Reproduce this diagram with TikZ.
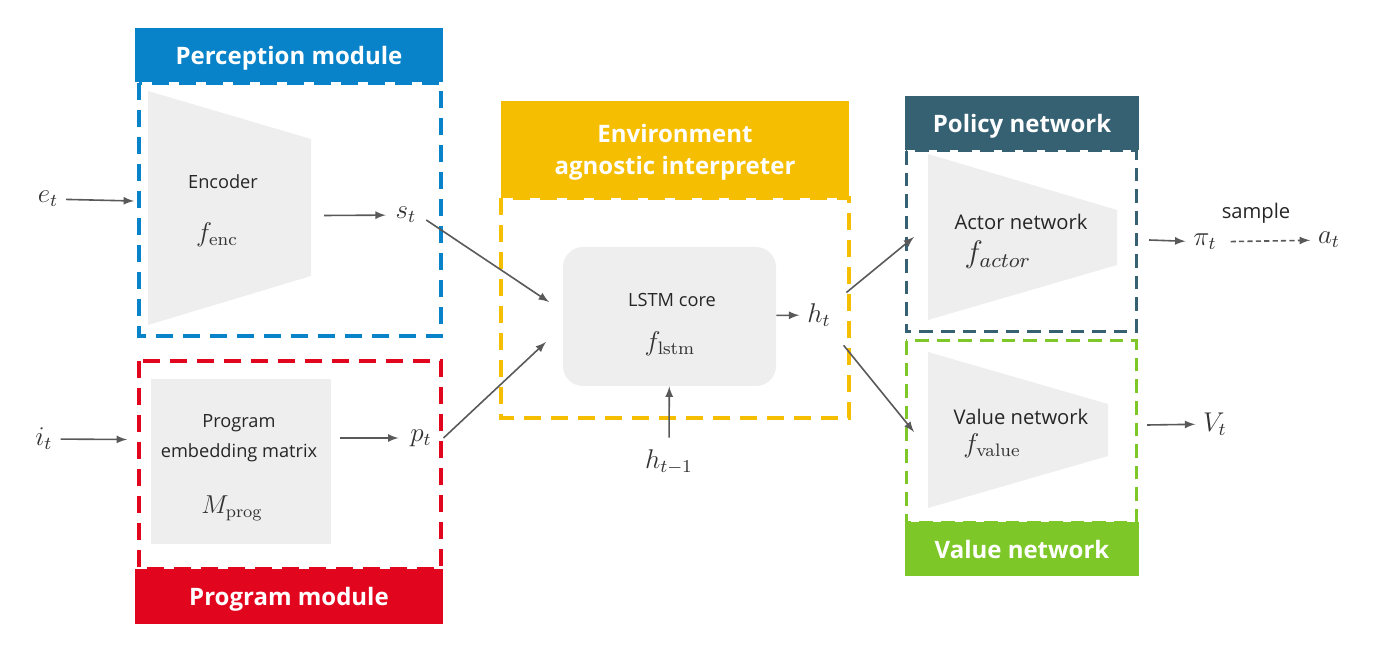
\documentclass[tikz,border=0pt]{standalone}
\usepackage{amsmath}
\usepackage{fontspec}
\newfontfamily\labelfont{Open Sans}
\usetikzlibrary{calc}
\definecolor{perblue}{HTML}{0882C8}
\definecolor{progred}{HTML}{E2051E}
\definecolor{envyellow}{HTML}{F6BE00}
\definecolor{polteal}{HTML}{356172}
\definecolor{valgreen}{HTML}{7DC828}
\definecolor{boxgray}{HTML}{EEEEEE}
\definecolor{arrgray}{HTML}{595959}
\begin{document}
\begin{tikzpicture}[x = .5pt, y = -.5pt,
    head/.style = {inner sep = 0pt, text = white, text depth = 0pt, align = center, font = \labelfont\fontsize{12}{16}\bfseries\selectfont},
    frame/.style = {line width = 1.9pt, dash pattern = on 8.5pt off 5pt},
    thinframe/.style = {line width = 1.5pt, dash pattern = on 6.8pt off 4pt},
    core/.style = {fill = boxgray, inner sep = 0pt},
    txt/.style = {text = black!85, align = center, font = \labelfont\fontsize{9.1}{15}\selectfont},
    bigtxt/.style = {txt, font = \labelfont\fontsize{10.1}{15}\selectfont},
    sym/.style = {text = black!80, font = \large, scale = 1.13},
    arr/.style = {-latex, draw = arrgray, line width = .8pt}]
        \useasboundingbox (0,0) rectangle (1380,651);

        % headers
        \node [head, fill = perblue, minimum width = 154pt, minimum height = 27pt] (perhead) at (289,55) {Perception module};
        \node [head, fill = progred, minimum width = 154pt, minimum height = 27.5pt] (proghead) at (289,596.5) {Program module};
        \node [head, fill = envyellow, minimum width = 174pt, minimum height = 48.5pt] (envhead) at (675,149.5) {Environment\\agnostic interpreter};
        \node [head, fill = polteal, minimum width = 117pt, minimum height = 27pt] (polhead) at (1022,123) {Policy network};
        \node [head, fill = valgreen, minimum width = 117pt, minimum height = 27pt] (valhead) at (1022,549) {Value network};

        % dashed frames
        \draw [frame, draw = perblue] (139,83) rectangle (441,336);
        \draw [frame, draw = progred] (139,361) rectangle (441,569);
        \draw [frame, draw = envyellow] (501,198) rectangle (849,418);
        \draw [thinframe, draw = polteal] (906,151) rectangle (1136,332);
        \draw [thinframe, draw = valgreen] (906,341) rectangle (1136,522);

        % grey blocks
        \fill [boxgray] (148,91) -- (311,139) -- (311,276) -- (148,325) -- cycle;
        \fill [boxgray] (928,154) -- (1117,210) -- (1117,265) -- (928,320) -- cycle;
        \fill [boxgray] (928,352) -- (1108,404) -- (1108,456) -- (928,508) -- cycle;
        \node [core, minimum width = 90pt, minimum height = 82.5pt] (prog) at (241,461.5) {};
        \node [core, rounded corners = 10pt, minimum width = 106.5pt, minimum height = 69.5pt] (lstm) at (669.5,316.5) {};

        % texts
        \node [txt] (enctxt) at (223,182) {Encoder};
        \node [txt] (progtxt) at (239,438) {Program\\embedding matrix};
        \node [txt] (lstmtxt) at (672,300) {LSTM core};
        \node [bigtxt] (acttxt) at (1021,222) {Actor network};
        \node [bigtxt] (valtxt) at (1021,417) {Value network};
        \node [bigtxt] (sampletxt) at (1256,213) {sample};

        \node [sym] (fenc) at (217,235) {$f_{\text{enc}}$};
        \node [sym, scale = .955] (mprog) at (232,508) {$M_{\text{prog}}$};
        \node [sym] (flstm) at (670,344) {$f_{\text{lstm}}$};
        \node [sym, scale = 1.145] (factor) at (998,255) {$f_{actor}$};
        \node [sym] (fvalue) at (992,446) {$f_{\text{value}}$};

        \node [sym] (et) at (48,199) {$e_t$};
        \node [sym] (it) at (44,439) {$i_t$};
        \node [sym, minimum width = 17.5pt] (st) at (406,215) {$s_t$};
        \node [sym, minimum width = 19.5pt] (pt) at (421,438) {$p_t$};
        \node [sym] (ht) at (819,315) {$h_t$};
        \node [sym] (hprev) at (669,462) {$h_{t-1}$};
        \node [sym] (pit) at (1205,242) {$\pi_t$};
        \node [sym] (at) at (1329,240) {$a_t$};
        \node [sym] (vt) at (1215,424) {$V_t$};

        % free arrow ends
        \coordinate (encin) at (134,201);
        \coordinate (encout) at (324,215.5);
        \coordinate (progin) at (127,439.5);
        \coordinate (lstmtop) at (549,302);
        \coordinate (lstmlow) at (546,342);
        \coordinate (actin) at (914,237);
        \coordinate (valin) at (914,432);
        \coordinate (actout) at (1149,240);
        \coordinate (valout) at (1147,425);

        \draw [arr] (et) -- (encin);
        \draw [arr] (encout) -- (st);
        \draw [arr] ($ (st.east) + (0,5) $) -- (lstmtop);
        \draw [arr] (it) -- (progin);
        \draw [arr, shorten <= 4.5pt] (prog.east |- pt) -- (pt);
        \draw [arr] (pt.east) -- (lstmlow);
        \draw [arr] (lstm) -- (ht);
        \draw [arr, shorten <= 2pt] (hprev) -- (lstm);
        \foreach \n/\s in {actin/5pt, valin/7pt}
                 {
                   \draw [arr, shorten <= \s] (ht) -- (\n);
                 }
        \draw [arr] (actout) -- (pit);
        \draw [arr, dash pattern = on 2.6pt off 1.6pt, shorten <= 3pt] (pit) -- (at);
        \draw [arr] (valout) -- (vt);
\end{tikzpicture}
\end{document}
